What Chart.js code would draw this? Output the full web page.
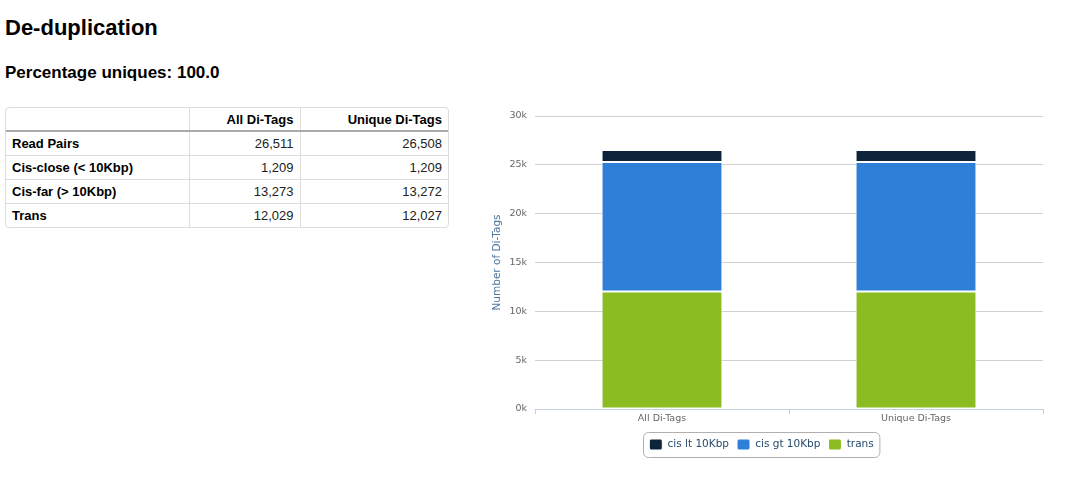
<!DOCTYPE html>
<html>
<head>
<meta charset="utf-8">
<script src="https://cdn.jsdelivr.net/npm/chart.js@4/dist/chart.umd.min.js"></script>
<style>
  body { margin: 0; font-family: "Liberation Sans", Arial, sans-serif; color: #000; background: #fff; }
  h2 { position: absolute; left: 5px; top: 16px; margin: 0; font-size: 22px; line-height: 1.1; font-weight: bold; }
  h4 { position: absolute; left: 5px; top: 64px; margin: 0; font-size: 17px; line-height: 1.1; font-weight: bold; }
  .wrap { position: absolute; left: 5px; top: 107px; width: 442px; border: 1px solid #ddd; border-radius: 4px; overflow: hidden; }
  table { border-collapse: collapse; width: 100%; font-size: 13px; }
  th, td { border-left: 1px solid #ddd; border-top: 1px solid #ddd; padding: 0 6px; height: 23px; }
  tr th:first-child, tr td:first-child { border-left: none; }
  thead th { border-top: none; border-bottom: 2px solid #aaa; text-align: right; height: 22px; }
  tbody tr:first-child td { border-top: none; }
  td { text-align: right; color: #222; }
  td.lbl { text-align: left; font-weight: bold; color: #000; }
  .chart { position: absolute; left: 480px; top: 100px; width: 590px; height: 370px; }
</style>
</head>
<body>
<h2>De-duplication</h2>
<h4>Percentage uniques: 100.0</h4>
<div class="wrap">
<table>
  <colgroup><col style="width:183px"><col style="width:111px"><col></colgroup>
  <thead><tr><th></th><th>All Di-Tags</th><th>Unique Di-Tags</th></tr></thead>
  <tbody id="tbody"></tbody>
</table>
</div>
<div class="chart"><canvas id="myChart"></canvas></div>
<script>
// data
const categories = ['All Di-Tags', 'Unique Di-Tags'];
const readPairs = [26511, 26508];
const cisLt = [1209, 1209];
const cisGt = [13273, 13272];
const trans = [12029, 12027];
const rowLabels = ['Read Pairs', 'Cis-close (< 10Kbp)', 'Cis-far (> 10Kbp)', 'Trans'];
const yTicks = [0, 5000, 10000, 15000, 20000, 25000, 30000];

// table
const rows = [readPairs, cisLt, cisGt, trans];
let tbody = document.getElementById('tbody');
rows.forEach((r, i) => {
    let tr = document.createElement('tr');
    tr.innerHTML = '<td class="lbl">' + rowLabels[i].replace('<', '&lt;').replace('>', '&gt;') + '</td>' +
        r.map(v => '<td>' + v.toLocaleString('en-US') + '</td>').join('');
    tbody.appendChild(tr);
});

// border round the legend, like highcharts
const legendBox = {
    id: 'legendBox',
    afterDraw(chart) {
        const lg = chart.legend;
        if (!lg || !lg.legendHitBoxes.length) return;
        const hb = lg.legendHitBoxes;
        const x1 = Math.min(...hb.map(b => b.left)) - 6;
        const x2 = Math.max(...hb.map(b => b.left + b.width)) + 6;
        const y1 = Math.min(...hb.map(b => b.top)) - 7;
        const y2 = Math.max(...hb.map(b => b.top + b.height)) + 7;
        const c = chart.ctx;
        c.save();
        c.strokeStyle = '#b0b0b0';
        c.lineWidth = 1;
        c.beginPath();
        c.roundRect(Math.round(x1) + 0.5, Math.round(y1) + 0.5, x2 - x1, y2 - y1, 5);
        c.stroke();
        c.restore();
    }
};

const ctx = document.getElementById('myChart').getContext('2d');
const barOpts = { borderColor: '#ffffff', borderWidth: 1, borderSkipped: false, categoryPercentage: 1, barPercentage: 0.476 };

const myChart = new Chart(ctx, {
    type: 'bar',
    data: {
        labels: categories,
        datasets: [
            Object.assign({ label: 'cis lt 10Kbp', data: cisLt, backgroundColor: '#0d233a', order: 3 }, barOpts),
            Object.assign({ label: 'cis gt 10Kbp', data: cisGt, backgroundColor: '#2f7ed8', order: 2 }, barOpts),
            Object.assign({ label: 'trans', data: trans, backgroundColor: '#8bbc21', order: 1 }, barOpts)
        ]
    },
    options: {
        responsive: true,
        maintainAspectRatio: false,
        animation: false,
        layout: { padding: { top: 16, right: 27, bottom: 10, left: 0 } },
        plugins: {
            tooltip: { enabled: false },
            legend: {
                position: 'bottom',
                labels: {
                    color: '#274b6d',
                    font: { family: 'DejaVu Sans', size: 10.5 },
                    boxWidth: 13,
                    boxHeight: 11,
                    useBorderRadius: true,
                    borderRadius: 2,
                    padding: 8,
                    sort: (a, b) => a.datasetIndex - b.datasetIndex
                }
            }
        },
        scales: {
            x: {
                stacked: true,
                afterFit(s) { s.height = 22; },
                grid: { offset: true, drawOnChartArea: false, drawTicks: true, tickLength: 5, color: '#C0D0E0' },
                border: { color: '#C0D0E0' },
                ticks: { color: '#666', font: { family: 'DejaVu Sans', size: 9.5 }, padding: -1 }
            },
            y: {
                stacked: true,
                min: 0,
                max: 30000,
                afterFit(s) { s.width = 55; },
                afterBuildTicks(s) { s.ticks = yTicks.map(v => ({ value: v })); },
                grid: { color: '#d0d0d0', drawTicks: false },
                border: { display: false },
                ticks: {
                    color: '#666',
                    padding: 8,
                    font: { family: 'DejaVu Sans', size: 9.5 },
                    callback: v => (v / 1000) + 'k'
                },
                title: {
                    display: true,
                    text: 'Number of Di-Tags',
                    color: '#4d759e',
                    font: { family: 'DejaVu Sans', size: 10.5 },
                    padding: { top: 11, bottom: 0 }
                }
            }
        }
    },
    plugins: [legendBox]
});
</script>
</body>
</html>
